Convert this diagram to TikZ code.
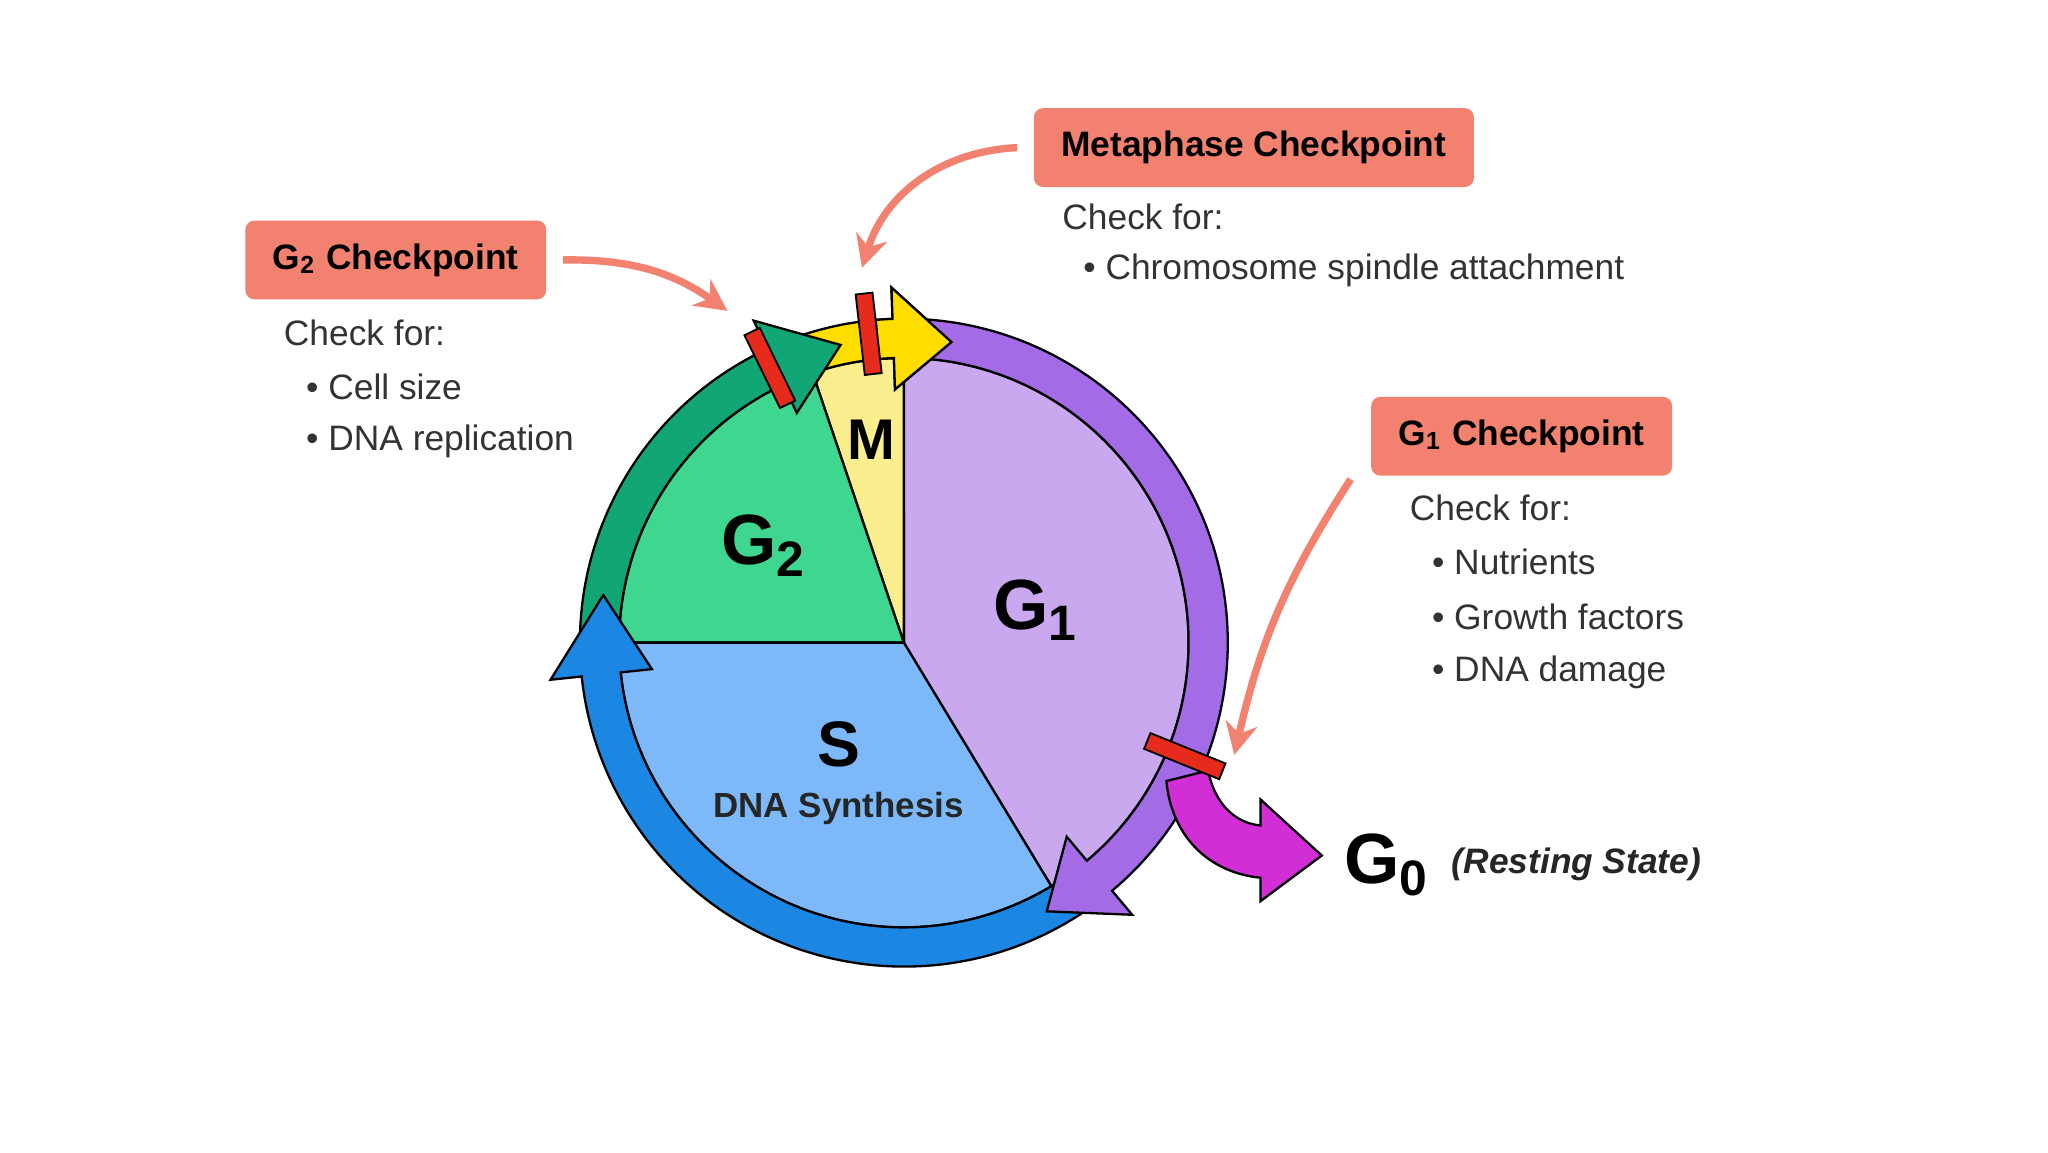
\documentclass[tikz,border=0pt]{standalone}
\usepackage{fontspec}
\setmainfont{Liberation Sans}
\usepackage{xcolor}
\usetikzlibrary{arrows.meta,positioning}

\definecolor{pieG1}{HTML}{C9A8F0}
\definecolor{ringG1}{HTML}{A36BE6}
\definecolor{pieM}{HTML}{FBEE8E}
\definecolor{ringM}{HTML}{FFDD00}
\definecolor{pieG2}{HTML}{3FD690}
\definecolor{ringG2}{HTML}{12A676}
\definecolor{pieS}{HTML}{7DB9F8}
\definecolor{ringS}{HTML}{1C86E3}
\definecolor{salmon}{HTML}{F2826F}
\definecolor{barred}{HTML}{E62A1C}
\definecolor{zero}{HTML}{D22ED6}

% banda circular con punta de flecha: color, angulo inicial, angulo base, angulo punta
\newcommand{\ringarrow}[4]{%
  \fill[#1,draw=black,line width=0.5pt]
    (#2:2.48) arc[start angle=#2,end angle=#3,radius=2.48]
    -- (#3:2.72) -- (#4:2.33) -- (#3:1.94) -- (#3:2.18)
    arc[start angle=#3,end angle=#2,radius=2.18] -- cycle;}

\tikzset{
  check/.style={fill=salmon,rounded corners=2pt,inner xsep=6pt,inner ysep=5pt,
    font=\fontsize{7.7}{9}\selectfont\bfseries},
  info/.style={anchor=west,font=\fontsize{7.7}{9}\selectfont,text=black!80},
  pointer/.style={salmon,line width=1.6pt,-{Stealth[length=7pt,width=7pt]}},
  bar/.style={fill=barred,draw=black,line width=0.4pt,minimum width=0.62cm,
    minimum height=0.13cm,inner sep=0pt},
  phase/.style={font=\bfseries}
}

\begin{document}
\begin{tikzpicture}
  \useasboundingbox[fill=white] (0,0) rectangle (15.68,8.82);

  % Paso 1: sectores interiores del ciclo
  \begin{scope}[shift={(6.92,3.90)}]
    \fill[pieG1,draw=black,line width=0.5pt] (0,0) -- (-58.8:2.18) arc[start angle=-58.8,end angle=90,radius=2.18] -- cycle;
    \fill[pieM,draw=black,line width=0.5pt] (0,0) -- (90:2.18) arc[start angle=90,end angle=108.7,radius=2.18] -- cycle;
    \fill[pieG2,draw=black,line width=0.5pt] (0,0) -- (108.7:2.18) arc[start angle=108.7,end angle=180,radius=2.18] -- cycle;
    \fill[pieS,draw=black,line width=0.5pt] (0,0) -- (180:2.18) arc[start angle=180,end angle=301.2,radius=2.18] -- cycle;

    % Paso 2: flechas del anillo exterior
    \ringarrow{ringM}{109}{92}{81}
    \ringarrow{ringG2}{180}{115}{102}
    \ringarrow{ringS}{305}{186}{171}
    \ringarrow{ringG1}{90}{-50}{-62}
    \ringarrow{ringM}{95}{92}{81}

    % Paso 3: salida hacia G0
    \fill[zero,draw=black,line width=0.5pt] (2.33,-0.98) .. controls (2.38,-1.23) and (2.53,-1.38) .. (2.73,-1.40)
      -- (2.73,-1.20) -- (3.20,-1.63) -- (2.73,-1.98) -- (2.73,-1.80)
      .. controls (2.33,-1.76) and (2.05,-1.48) .. (2.01,-1.06) -- cycle;

    % Paso 4: barras de los puntos de control
    \node[bar,rotate=116] (barG2) at (116:2.34) {};
    \node[bar,rotate=96.5] (barM) at (96.5:2.38) {};
    \node[bar,rotate=-22] (barG1) at (-22:2.32) {};
  \end{scope}

  % Paso 5: nombres de las fases
  \node[phase,font=\fontsize{15.5}{17}\selectfont\bfseries] (g2) at (5.85,4.64) {G\textsubscript{2}};
  \node[phase,font=\fontsize{12.5}{14}\selectfont\bfseries] (m) at (6.67,5.45) {M};
  \node[phase,font=\fontsize{15.5}{17}\selectfont\bfseries] (g1) at (7.93,4.15) {G\textsubscript{1}};
  \node[phase,font=\fontsize{14}{16}\selectfont\bfseries] (s) at (6.42,3.12) {S};
  \node[phase,font=\fontsize{7.6}{9}\selectfont\bfseries,text=black!85] (dna) at (6.42,2.63) {DNA Synthesis};
  \node[phase,font=\fontsize{15.5}{17}\selectfont\bfseries] (g0) at (10.62,2.20) {G\textsubscript{0}};
  \node[font=\fontsize{7.7}{9}\selectfont\bfseries\itshape,text=black!85] (rest) at (12.07,2.20) {(Resting State)};

  % Paso 6: recuadros de los puntos de control
  \node[check] (chkG2) at (3.03,6.83) {G\textsubscript{2} Checkpoint};
  \node[check] (chkM) at (9.60,7.69) {Metaphase Checkpoint};
  \node[check] (chkG1) at (11.65,5.48) {G\textsubscript{1} Checkpoint};

  \node[info] (forG2) at (2.05,6.27) {Check for:};
  \node[info] (sizeG2) at (2.22,5.86) {\textbullet\ Cell size};
  \node[info] (repG2) at (2.22,5.44) {\textbullet\ DNA replication};

  \node[info] (forM) at (8.01,7.16) {Check for:};
  \node[info] (spinM) at (8.17,6.75) {\textbullet\ Chromosome spindle attachment};

  \node[info] (forG1) at (10.67,4.93) {Check for:};
  \node[info] (nutG1) at (10.84,4.52) {\textbullet\ Nutrients};
  \node[info] (growG1) at (10.84,4.10) {\textbullet\ Growth factors};
  \node[info] (damG1) at (10.84,3.67) {\textbullet\ DNA damage};

  % Paso 7: flechas hacia las barras
  \coordinate (tipG2) at (5.57,6.44);
  \coordinate (tipM) at (6.60,6.77);
  \coordinate (tipG1) at (9.45,3.04);
  \draw[pointer] (chkG2.east) ++(0.12,0) to[bend left=18] (tipG2);
  \draw[pointer] (chkM.west) ++(-0.12,0) to[bend right=35] (tipM);
  \draw[pointer] (chkG1.south west) ++(-0.15,-0.02) to[bend right=10] (tipG1);
\end{tikzpicture}
\end{document}
